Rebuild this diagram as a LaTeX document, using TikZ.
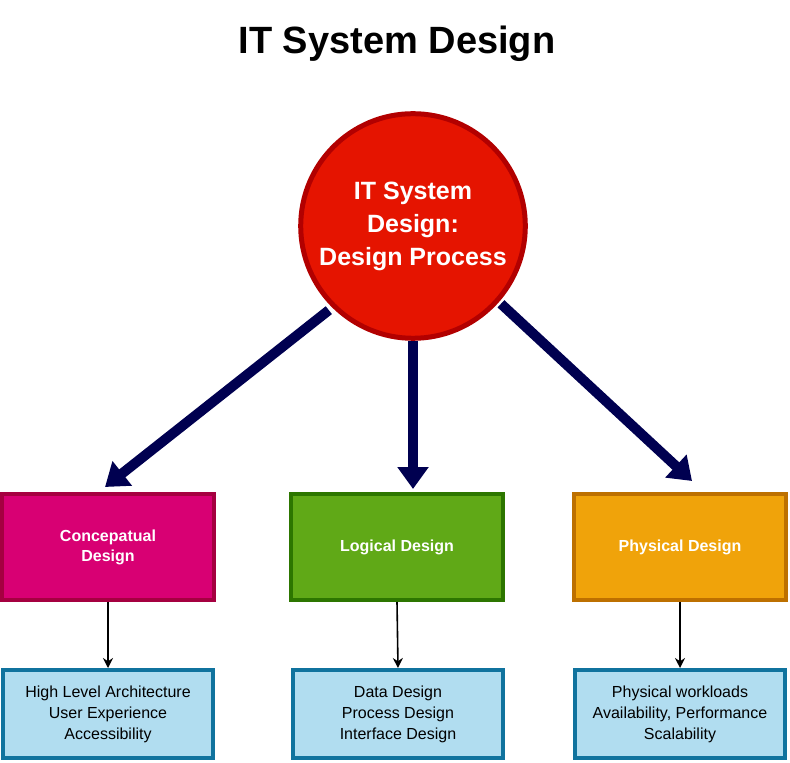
\documentclass[tikz,border=0pt]{standalone}
\usepackage{fontspec}
\setmainfont{Liberation Sans}
\usetikzlibrary{arrows.meta}
\definecolor{hubred}{HTML}{E51400}
\definecolor{hubedge}{HTML}{B20000}
\definecolor{conc}{HTML}{D80073}
\definecolor{concedge}{HTML}{A50040}
\definecolor{logi}{HTML}{60A917}
\definecolor{logiedge}{HTML}{2D7600}
\definecolor{phys}{HTML}{F0A30A}
\definecolor{physedge}{HTML}{BD7000}
\definecolor{item}{HTML}{B1DDF0}
\definecolor{itemedge}{HTML}{10739E}
\definecolor{navy}{HTML}{000050}
\tikzset{
  phase/.style={draw, line width=2pt, minimum width=106pt, minimum height=53pt,
    text=white, font=\fontsize{8}{10}\selectfont\bfseries, align=center},
  items/.style={draw=itemedge, fill=item, line width=2pt, minimum width=105pt,
    minimum height=44pt, font=\fontsize{8}{10.5}\selectfont, align=center},
  bigarrow/.style={draw=navy, line width=5pt, -{Triangle[length=11pt,width=15pt]}},
  smallarrow/.style={draw=black, line width=0.8pt, -{Stealth[length=5pt,width=5pt]}}
}
\begin{document}
\begin{tikzpicture}[x=0.5pt,y=-0.5pt]
\useasboundingbox (0,0) rectangle (790,763);

\node (title) at (397,44) {\fontsize{19}{22}\selectfont\bfseries IT System Design};

\node[circle, draw=hubedge, fill=hubred, line width=2.5pt, minimum size=111pt,
  text=white, font=\fontsize{12.5}{16.5}\selectfont\bfseries, align=center]
  (hub) at (413,226) {IT System\\Design:\\Design Process};

\node[phase, draw=concedge, fill=conc] (concept) at (108,547) {Concepatual\\Design};
\node[phase, draw=logiedge, fill=logi] (logical) at (397,547) {Logical Design};
\node[phase, draw=physedge, fill=phys] (physical) at (680,547) {Physical Design};

\node[items] (conceptitems) at (108,714) {High Level Architecture\\User Experience\\Accessibility};
\node[items] (logicalitems) at (398,714) {Data Design\\Process Design\\Interface Design};
\node[items] (physicalitems) at (680,714) {Physical workloads\\Availability, Performance\\Scalability};

\coordinate (conceptin) at (105,487);
\coordinate (logicalin) at (413,489);
\coordinate (physicalin) at (692,481);
\draw[bigarrow] (hub.225) ++(-3,3) -- (conceptin);
\draw[bigarrow] (hub.south) -- (logicalin);
\draw[bigarrow] (hub.-40) ++(0,4) -- (physicalin);

\draw[smallarrow] (concept.south) -- (conceptitems.north);
\draw[smallarrow] (logical.south) -- (logicalitems.north);
\draw[smallarrow] (physical.south) -- (physicalitems.north);
\end{tikzpicture}
\end{document}
